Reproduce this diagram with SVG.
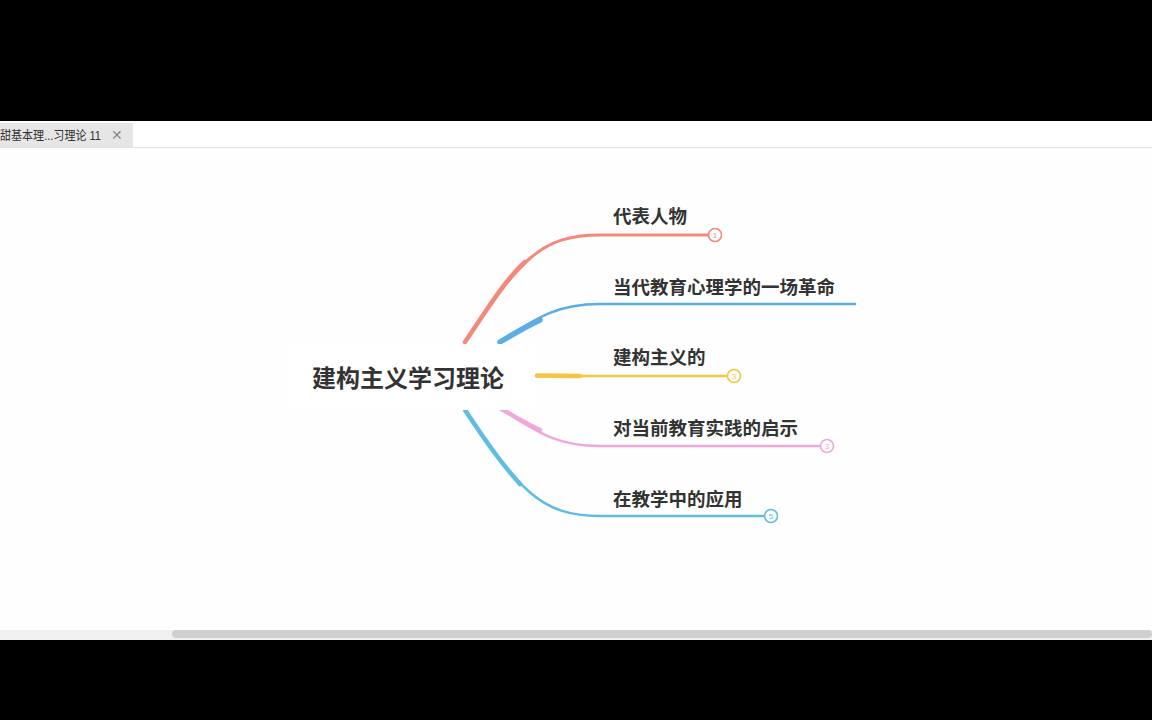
<svg xmlns="http://www.w3.org/2000/svg" width="1152" height="720" viewBox="0 0 1152 720">
<style>
.lbl{font-family:"Liberation Sans","Noto Sans CJK SC",sans-serif;font-weight:bold;font-size:18.5px;fill:#333}
.num{font-family:"Liberation Sans",sans-serif;font-size:8px;text-anchor:middle}
.dot{fill:#fff;stroke-width:1.6}
</style>
<rect width="1152" height="720" fill="#000"/>
<rect x="0" y="121" width="1152" height="519" fill="#fdfefd"/>
<rect x="0" y="121" width="1152" height="27" fill="#fff"/>
<line x1="0" y1="147.5" x2="1152" y2="147.5" stroke="#e2e2e2"/>
<rect x="0" y="123" width="133" height="24" fill="#e6e6e6"/>
<text x="0" y="140" font-family="Liberation Sans,'Noto Sans CJK SC',sans-serif" font-size="12.5" fill="#333" textLength="101" lengthAdjust="spacingAndGlyphs">甜基本理...习理论 11</text>
<text x="111" y="140" font-family="Liberation Sans,sans-serif" font-size="14" fill="#888">✕</text>
<rect x="0" y="630" width="1152" height="10" fill="#f0f0f0"/>
<rect x="172" y="630" width="980" height="8" rx="4" fill="#cfcfcf"/>
<g id="connectors" fill="none" stroke-linecap="round">
<path d="M465 342 C520 260 540 235 600 235 L708 235" stroke="#f4897b" stroke-width="3"/>
<path d="M465 342 C490 305 505 280 525 262" stroke="#f4897b" stroke-width="4.5"/>
<path d="M500 342 C540 315 560 304 600 304 L855 304" stroke="#5aade6" stroke-width="2.5"/>
<path d="M500 342 C515 333 525 327 540 320" stroke="#5aade6" stroke-width="5.5"/>
<path d="M535 376 L727 376" stroke="#f6c544" stroke-width="2.5"/>
<path d="M537 375.5 L580 376" stroke="#f6c544" stroke-width="4.5"/>
<path d="M500 408 C540 435 560 446 600 446 L820 446" stroke="#f0a7d9" stroke-width="2.5"/>
<path d="M500 408 C515 417 525 423 540 430" stroke="#f0a7d9" stroke-width="4.5"/>
<path d="M465 410 C520 490 540 516 600 516 L764 516" stroke="#5fbde3" stroke-width="2.5"/>
<path d="M465 410 C485 440 500 462 520 484" stroke="#5fbde3" stroke-width="4.5"/>
</g>
<g id="root">
<rect x="290" y="344" width="245" height="66" rx="6" fill="#fff"/>
<text x="312" y="387" font-family="Liberation Sans,'Noto Sans CJK SC',sans-serif" font-weight="bold" font-size="24" fill="#333">建构主义学习理论</text>
</g>
<g id="n1"><text class="lbl" x="613" y="223">代表人物</text><circle class="dot" cx="715" cy="235" r="6.5" stroke="#f4897b"/><text class="num" x="715" y="238" fill="#f4897b">1</text></g>
<g id="n2"><text class="lbl" x="613" y="294">当代教育心理学的一场革命</text></g>
<g id="n3"><text class="lbl" x="613" y="364">建构主义的</text><circle class="dot" cx="734" cy="376" r="6.5" stroke="#f6c544"/><text class="num" x="734" y="379" fill="#f6c544">3</text></g>
<g id="n4"><text class="lbl" x="613" y="435">对当前教育实践的启示</text><circle class="dot" cx="827" cy="446" r="6.5" stroke="#f0a7d9"/><text class="num" x="827" y="449" fill="#f0a7d9">3</text></g>
<g id="n5"><text class="lbl" x="613" y="506">在教学中的应用</text><circle class="dot" cx="771" cy="516" r="6.5" stroke="#5fbde3"/><text class="num" x="771" y="519" fill="#5fbde3">5</text></g>
</svg>
